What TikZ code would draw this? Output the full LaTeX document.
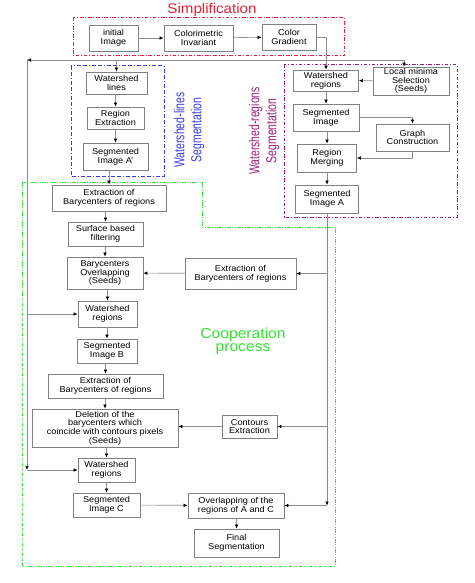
\documentclass[tikz,border=0pt]{standalone}
\usepackage{fontspec}
\setmainfont{Liberation Sans}[FakeStretch=1.08]
\newfontfamily\narrowsf{Liberation Sans}[FakeStretch=0.72]
\usetikzlibrary{arrows.meta,shadows}
\definecolor{simpred}{RGB}{232,30,55}
\definecolor{wlblue}{RGB}{60,60,230}
\definecolor{wrpurple}{RGB}{160,30,120}
\definecolor{coopgreen}{RGB}{50,225,50}
\tikzset{
  box/.style={draw=black!50, line width=0.8pt, fill=white, align=center, inner sep=1pt,
    font=\fontsize{8.5}{8.7}\selectfont,
    drop shadow={shadow xshift=0.7pt, shadow yshift=-0.7pt, fill=black!45, opacity=0.6}},
  sz/.style 2 args={minimum width=#1pt, minimum height=#2pt},
  arr/.style={draw=black!45, line width=0.6pt, -{Latex[length=4pt,width=3.6pt,black]}},
  frame/.style={line width=1pt, dash pattern=on 3.5pt off 1.8pt on 1pt off 1.8pt},
  sidelabel/.style={rotate=90, align=center, font=\narrowsf\fontsize{14.5}{17}\selectfont}
}
\begin{document}
\begin{tikzpicture}[x=1pt,y=-1pt]
\useasboundingbox (0,0) rectangle (474,583);
% frames
\draw[frame, simpred] (73,18) rectangle (344,56);
\node[text=simpred, font=\fontsize{14}{14}\selectfont] (simp) at (212,10) {Simplification};
\draw[frame, wlblue, dash pattern=on 4pt off 2pt on 4pt off 2pt on 1pt off 2pt] (71,66) rectangle (164,176);
\node[sidelabel, text=wlblue] (wllab) at (189,130) {Watershed-lines\\Segmentation};
\draw[frame, wrpurple] (284,65) rectangle (457,217);
\node[sidelabel, text=wrpurple] (wrlab) at (264,131) {Watershed-regions\\Segmentation};
\draw[frame, coopgreen, dash pattern=on 3.5pt off 1.5pt on 1pt off 1.5pt on 1pt off 1.5pt]
  (22,182) -- (202,182) -- (202,227) -- (335,227) -- (335,566) -- (22,566) -- cycle;
\node[text=coopgreen, align=center, font=\fontsize{14.5}{13.5}\selectfont] (coop) at (243,341) {Cooperation\\process};

% simplification
\node[box, sz={49}{26}] (ii) at (113.5,38) {initial\\Image};
\node[box, sz={69}{26}] (ci) at (198.5,38) {Colorimetric\\Invariant};
\node[box, sz={54}{26}] (cg) at (289,37) {Color\\Gradient};

% watershed lines
\node[box, sz={61}{22}] (wl) at (116.5,83) {Watershed\\lines};
\node[box, sz={57}{22}] (re) at (115.5,118) {Region\\Extraction};
\node[box, sz={65}{27}] (sia) at (115.5,156.5) {Segmented\\Image A'};

% watershed regions
\node[box, sz={65}{21}] (wra) at (326,80.5) {Watershed\\regions};
\node[box, sz={76}{28}] (lms) at (411,81) {Local minima\\Selection\\(Seeds)};
\node[box, sz={66}{27}] (si) at (326,117.5) {Segmented\\Image};
\node[box, sz={73}{27}] (gc) at (412.5,137.5) {Graph\\Construction};
\node[box, sz={59}{28}] (rm) at (327,158) {Region\\Merging};
\node[box, sz={63}{28}] (sa) at (327,199) {Segmented\\Image A};

% cooperation
\node[box, sz={114}{26}] (eba) at (109,198) {Extraction of\\Barycenters of regions};
\node[box, sz={75}{24}] (sbf) at (105.5,234) {Surface based\\filtering};
\node[box, sz={76}{32}] (bo) at (105,273) {Barycenters\\Overlapping\\(Seeds)};
\node[box, sz={111}{31}] (ebb) at (240.5,273.5) {Extraction of\\Barycenters of regions};
\node[box, sz={59}{26}] (wrb) at (107.5,314) {Watershed\\regions};
\node[box, sz={60}{24}] (sib) at (107,351) {Segmented\\Image B};
\node[box, sz={115}{24}] (ebc) at (105.5,386) {Extraction of\\Barycenters of regions};
\node[box, sz={146}{38}] (del) at (105,428) {Deletion of the\\barycenters which\\coincide with contours pixels\\(Seeds)};
\node[box, sz={55}{23}] (ce) at (249.5,426.5) {Contours\\Extraction};
\node[box, sz={57}{24}] (wrc) at (106.5,470) {Watershed\\regions};
\node[box, sz={67}{24}] (sic) at (106.5,505) {Segmented\\Image C};
\node[box, sz={96}{25}] (ov) at (236,505.5) {Overlapping of the\\regions of A and C};
\node[box, sz={85}{28}] (fs) at (236.5,543) {Final\\Segmentation};

\coordinate (top) at (326,60);
\coordinate (lfta) at (27,60);
\coordinate (lftb) at (27,470);
\coordinate (trunk) at (sa.south |- ov.east);

\draw[arr] (ii) -- (ci);
\draw[arr] (ci) -- (cg);
\draw[arr] (cg.east) -| (wra.north);
\draw[arr] (top) -- (lfta);
\draw[arr] (lfta) -- (lftb);
\draw[arr] (lfta |- wrb.west) -- (wrb.west);
\draw[arr] (lfta |- wrc.west) -- (wrc.west);
\draw[arr] (top) -| ([xshift=-7pt]lms.north);
\draw[arr] (wl.north |- top) -- (wl.north);
\draw[arr] (lms) -- (wra);
\draw[arr] (si.east) -| (gc.north);
\draw[arr] (gc.south) |- (rm.east);
\draw[arr] (sa.south) -- (trunk);
\draw[arr] (sa.south |- ebb.east) -- (ebb.east);
\draw[arr] (sa.south |- ce.east) -- (ce.east);
\draw[arr] (trunk) -- (ov.east);
\draw[arr] (ebb) -- (bo);
\draw[arr] (ce.west) -- (ce.west -| del.east);
\draw[arr] (sic) -- (ov);
\foreach \a/\b in {wl/re, re/sia, sia/eba, eba/sbf, sbf/bo, bo/wrb, wrb/sib, sib/ebc, ebc/del,
  del/wrc, wrc/sic, wra/si, si/rm, rm/sa, ov/fs}
  \draw[arr] (\b.north |- \a.south) -- (\b.north);
\end{tikzpicture}
\end{document}
